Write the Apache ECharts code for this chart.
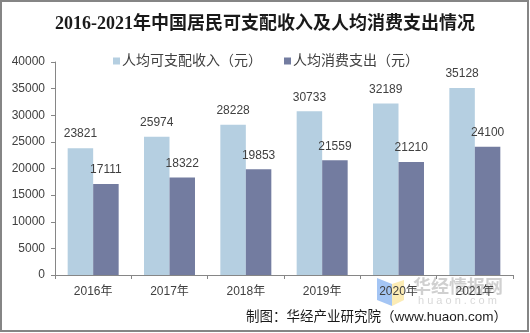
<!DOCTYPE html>
<html>
<head>
<meta charset="utf-8">
<script src="https://cdn.jsdelivr.net/npm/echarts@6/dist/echarts.min.js"></script>
<style>
html,body{margin:0;padding:0;background:#fff;}
#chart{width:530px;height:333px;}
</style>
</head>
<body>
<div id="chart"></div>
<script>
var categories = ['2016年', '2017年', '2018年', '2019年', '2020年', '2021年'];
var incomeName = '人均可支配收入（元）';
var spendName = '人均消费支出（元）';
var income = [23821, 25974, 28228, 30733, 32189, 35128];
var spend = [17111, 18322, 19853, 21559, 21210, 24100];
var yTicks = [0, 5000, 10000, 15000, 20000, 25000, 30000, 35000, 40000];

var cjk = '"Liberation Sans", Arial, "Noto Sans CJK SC", sans-serif';
var chart = echarts.init(document.getElementById('chart'), null, {renderer: 'canvas'});
var option = {
  backgroundColor: '#ffffff',
  animation: false,
  title: {
    text: '2016-2021年中国居民可支配收入及人均消费支出情况',
    left: 'center',
    top: 10,
    textStyle: {fontSize: 18, fontWeight: 'bold', color: '#1a1a1a', fontFamily: '"Liberation Serif", "Noto Sans CJK SC", serif'}
  },
  legend: {
    top: 49,
    left: 108,
    itemWidth: 7,
    itemHeight: 7,
    itemGap: 22,
    icon: 'rect',
    textStyle: {fontSize: 14, color: '#404040', fontFamily: cjk, padding: [0, 0, 0, -3]},
    data: [incomeName, spendName]
  },
  grid: {left: 55, right: 17, top: 62, bottom: 58},
  xAxis: {
    type: 'category',
    data: categories,
    axisLine: {lineStyle: {color: '#868686', width: 1}},
    axisTick: {show: true, length: 4, lineStyle: {color: '#868686'}},
    axisLabel: {fontSize: 12, color: '#404040', margin: 11, fontFamily: cjk}
  },
  yAxis: {
    type: 'value',
    min: yTicks[0],
    max: yTicks[yTicks.length - 1],
    interval: yTicks[1] - yTicks[0],
    axisLine: {show: true, lineStyle: {color: '#868686', width: 1}},
    axisTick: {show: true, length: 4, lineStyle: {color: '#868686'}},
    splitLine: {show: false},
    axisLabel: {fontSize: 12, color: '#404040', margin: 10, fontFamily: cjk, formatter: function (v) { return String(v); }}
  },
  series: [
    {
      name: incomeName,
      type: 'bar',
      data: income,
      barWidth: '33.4%',
      barGap: '0%',
      itemStyle: {color: '#b5cfe1'},
      label: {show: true, position: 'top', distance: 8, fontSize: 12, color: '#404040', fontFamily: cjk}
    },
    {
      name: spendName,
      type: 'bar',
      data: spend,
      barWidth: '33.4%',
      barGap: '0%',
      itemStyle: {color: '#737ca0'},
      label: {show: true, position: 'top', distance: 8, fontSize: 12, color: '#404040', fontFamily: cjk}
    }
  ],
  graphic: [
    {type: 'rect', shape: {x: 1, y: 1, width: 527, height: 330}, style: {fill: 'none', stroke: '#858585', lineWidth: 2}, z: 100},
    {type: 'polygon', shape: {points: [[377, 278], [392, 284], [392, 306], [377, 300]]}, style: {fill: 'rgba(90,150,235,0.55)'}, z: 0},
    {type: 'polygon', shape: {points: [[392, 284], [404, 280], [404, 300], [392, 306]]}, style: {fill: 'rgba(250,220,120,0.55)'}, z: 0},
    {type: 'text', left: 413, top: 277, style: {text: '华经情报网', fontSize: 18, fontWeight: 'bold', fill: 'rgba(170,170,170,0.55)', fontFamily: '"Noto Sans CJK SC", sans-serif'}, z: 0},
    {type: 'text', left: 418, top: 295, style: {text: 'h u a o n . c o m', fontSize: 11, fill: 'rgba(190,190,190,0.6)', fontFamily: cjk}, z: 0},
    {type: 'text', right: 23, top: 311, style: {text: '制图：华经产业研究院（www.huaon.com）', fontSize: 13.5, fill: '#1a1a1a', fontFamily: cjk}, z: 50}
  ]
};
chart.setOption(option);
</script>
</body>
</html>
